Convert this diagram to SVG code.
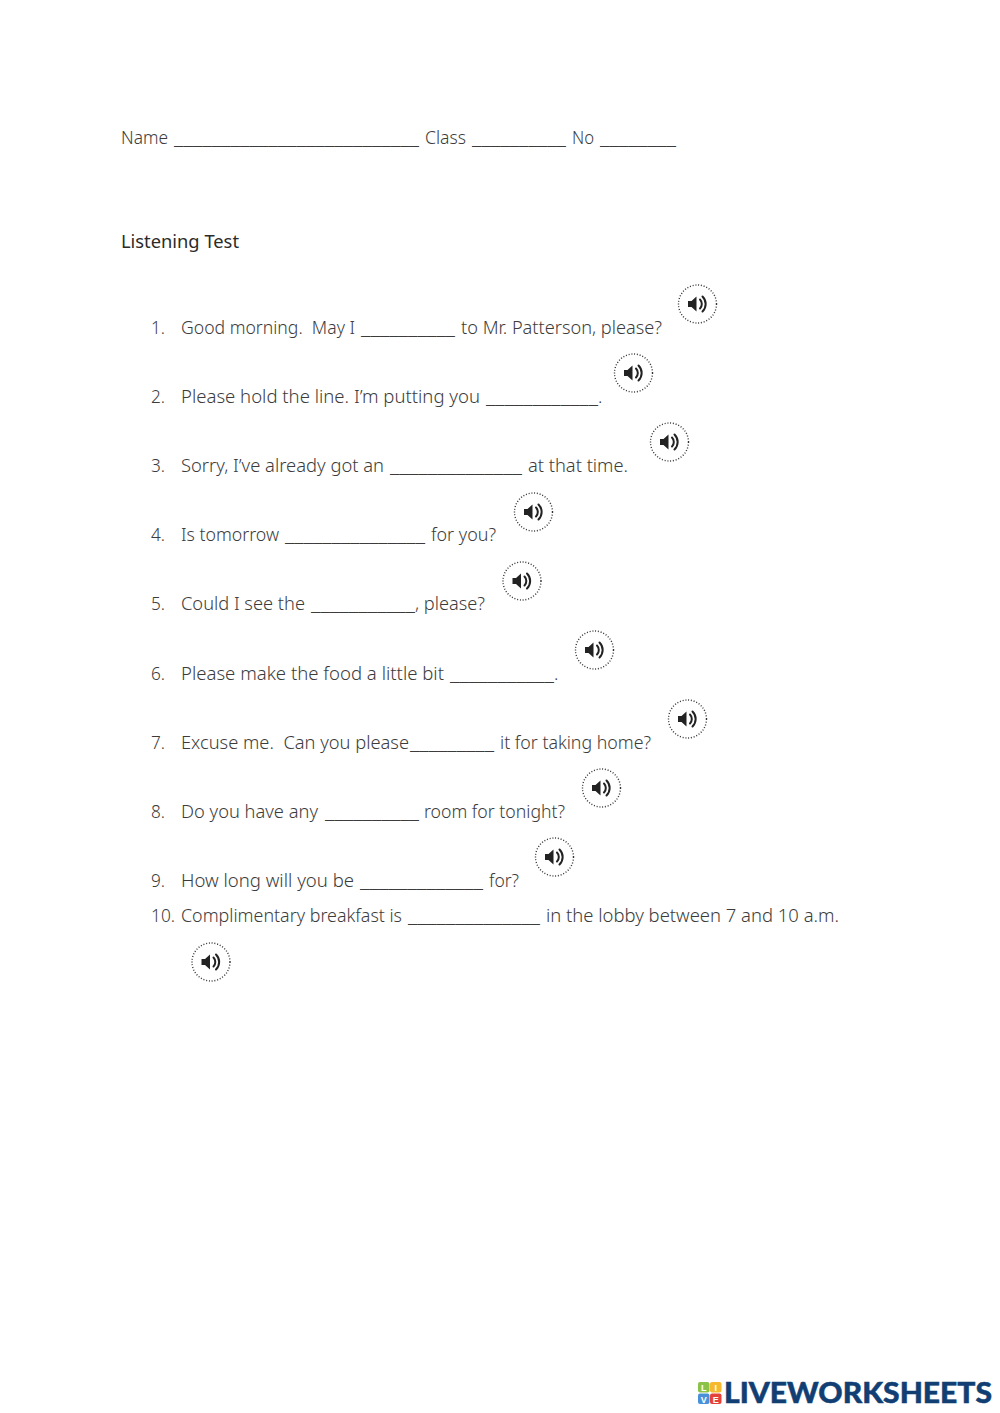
<svg xmlns="http://www.w3.org/2000/svg" width="1000" height="1413" viewBox="0 0 1000 1413">
<style>
text{font-family:"Noto Sans","Open Sans","Liberation Sans",sans-serif;font-size:18px;font-weight:300;fill:#3c3c3c;white-space:pre}
.b{fill:#2b2b2b;font-weight:400}
.logo{font-family:Lato,"Liberation Sans",sans-serif;font-weight:900;font-size:29px;fill:#123f73;stroke:#123f73;stroke-width:.5}
.t{font-family:"Liberation Sans",sans-serif;font-weight:700;font-size:9px;fill:#fff;text-anchor:middle}
</style>
<defs>
<g id="speaker">
<circle r="19" fill="#fff" stroke="#333" stroke-width="1.4" stroke-dasharray="1 1.8"/>
<path d="M-9.5-3h3.5l5-4.5v15l-5-4.500h-3.500z" fill="#222"/>
<path d="M2.500-4.500a6.500 6.500 0 0 1 0 9M5-7.500a10.500 10.500 0 0 1 0 15" fill="none" stroke="#222" stroke-width="2" stroke-linecap="round"/>
</g>
</defs>
<rect width="1000" height="1413" fill="#fff"/>
<g id="header">
<text x="121" y="143.500" textLength="47" lengthAdjust="spacingAndGlyphs">Name</text>
<text x="174" y="143.500" textLength="245" lengthAdjust="spacingAndGlyphs">__________________________</text>
<text x="425" y="143.500" textLength="41" lengthAdjust="spacingAndGlyphs">Class</text>
<text x="472" y="143.500" textLength="94" lengthAdjust="spacingAndGlyphs">__________</text>
<text x="572" y="143.500" textLength="22" lengthAdjust="spacingAndGlyphs">No</text>
<text x="600" y="143.500" textLength="76" lengthAdjust="spacingAndGlyphs">________</text>
</g>
<text id="title" class="b" x="121" y="247.500" textLength="118" lengthAdjust="spacingAndGlyphs">Listening Test</text>
<g id="q1">
<text x="151" y="333.500" textLength="14" lengthAdjust="spacingAndGlyphs">1.</text>
<text x="181" y="333.500" textLength="174" lengthAdjust="spacingAndGlyphs">Good morning.  May I</text>
<text x="361" y="333.500" textLength="94" lengthAdjust="spacingAndGlyphs">__________</text>
<text x="461" y="333.500" textLength="201" lengthAdjust="spacingAndGlyphs">to Mr. Patterson, please?</text>
<use href="#speaker" x="697.500" y="304"/>
</g>
<g id="q2">
<text x="151" y="402.500" textLength="14" lengthAdjust="spacingAndGlyphs">2.</text>
<text x="181" y="402.500" textLength="299" lengthAdjust="spacingAndGlyphs">Please hold the line. I’m putting you</text>
<text x="486" y="402.500" textLength="112" lengthAdjust="spacingAndGlyphs">____________</text>
<text x="598" y="402.500">.</text>
<use href="#speaker" x="633.500" y="373"/>
</g>
<g id="q3">
<text x="151" y="471.500" textLength="14" lengthAdjust="spacingAndGlyphs">3.</text>
<text x="181" y="471.500" textLength="203" lengthAdjust="spacingAndGlyphs">Sorry, I’ve already got an</text>
<text x="390" y="471.500" textLength="132" lengthAdjust="spacingAndGlyphs">______________</text>
<text x="528" y="471.500" textLength="100" lengthAdjust="spacingAndGlyphs">at that time.</text>
<use href="#speaker" x="669.500" y="442"/>
</g>
<g id="q4">
<text x="151" y="540.500" textLength="14" lengthAdjust="spacingAndGlyphs">4.</text>
<text x="181" y="540.500" textLength="98" lengthAdjust="spacingAndGlyphs">Is tomorrow</text>
<text x="285" y="540.500" textLength="140" lengthAdjust="spacingAndGlyphs">_______________</text>
<text x="431" y="540.500" textLength="65" lengthAdjust="spacingAndGlyphs">for you?</text>
<use href="#speaker" x="533.500" y="512"/>
</g>
<g id="q5">
<text x="151" y="609.500" textLength="14" lengthAdjust="spacingAndGlyphs">5.</text>
<text x="181" y="609.500" textLength="124" lengthAdjust="spacingAndGlyphs">Could I see the</text>
<text x="311" y="609.500" textLength="104" lengthAdjust="spacingAndGlyphs">___________</text>
<text x="415" y="609.500" textLength="70" lengthAdjust="spacingAndGlyphs">, please?</text>
<use href="#speaker" x="522" y="581"/>
</g>
<g id="q6">
<text x="151" y="679.500" textLength="14" lengthAdjust="spacingAndGlyphs">6.</text>
<text x="181" y="679.500" textLength="263" lengthAdjust="spacingAndGlyphs">Please make the food a little bit</text>
<text x="450" y="679.500" textLength="104" lengthAdjust="spacingAndGlyphs">___________</text>
<text x="554" y="679.500">.</text>
<use href="#speaker" x="594.500" y="650"/>
</g>
<g id="q7">
<text x="151" y="748.500" textLength="14" lengthAdjust="spacingAndGlyphs">7.</text>
<text x="181" y="748.500" textLength="228" lengthAdjust="spacingAndGlyphs">Excuse me.  Can you please</text>
<text x="410" y="748.500" textLength="84" lengthAdjust="spacingAndGlyphs">_________</text>
<text x="500" y="748.500" textLength="151" lengthAdjust="spacingAndGlyphs">it for taking home?</text>
<use href="#speaker" x="687.500" y="719"/>
</g>
<g id="q8">
<text x="151" y="817.500" textLength="14" lengthAdjust="spacingAndGlyphs">8.</text>
<text x="181" y="817.500" textLength="137" lengthAdjust="spacingAndGlyphs">Do you have any</text>
<text x="325" y="817.500" textLength="94" lengthAdjust="spacingAndGlyphs">__________</text>
<text x="424" y="817.500" textLength="141" lengthAdjust="spacingAndGlyphs">room for tonight?</text>
<use href="#speaker" x="601.500" y="788"/>
</g>
<g id="q9">
<text x="151" y="886.500" textLength="14" lengthAdjust="spacingAndGlyphs">9.</text>
<text x="181" y="886.500" textLength="173" lengthAdjust="spacingAndGlyphs">How long will you be</text>
<text x="360" y="886.500" textLength="123" lengthAdjust="spacingAndGlyphs">_____________</text>
<text x="489" y="886.500" textLength="30" lengthAdjust="spacingAndGlyphs">for?</text>
<use href="#speaker" x="554.500" y="857"/>
</g>
<g id="q10">
<text x="151" y="921.500" textLength="24" lengthAdjust="spacingAndGlyphs">10.</text>
<text x="181" y="921.500" textLength="221" lengthAdjust="spacingAndGlyphs">Complimentary breakfast is</text>
<text x="408" y="921.500" textLength="132" lengthAdjust="spacingAndGlyphs">______________</text>
<text x="546" y="921.500" textLength="293" lengthAdjust="spacingAndGlyphs">in the lobby between 7 and 10 a.m.</text>
<use href="#speaker" x="211" y="962"/>
</g>
<g id="logo">
<rect x="698" y="1382" width="11.500" height="10.500" rx="2" fill="#8bc34a"/>
<rect x="710" y="1382" width="11.500" height="10.500" rx="2" fill="#f5b82e"/>
<rect x="698" y="1393.500" width="11.500" height="10.500" rx="2" fill="#4a90d9"/>
<rect x="710" y="1393.500" width="11.500" height="10.500" rx="2" fill="#e5403a"/>
<text class="t" x="703.800" y="1391">L</text>
<text class="t" x="715.800" y="1391">I</text>
<text class="t" x="703.800" y="1402.500">V</text>
<text class="t" x="715.800" y="1402.500">E</text>
<text class="logo" x="724" y="1403" textLength="268" lengthAdjust="spacingAndGlyphs">LIVEWORKSHEETS</text>
</g>
</svg>
